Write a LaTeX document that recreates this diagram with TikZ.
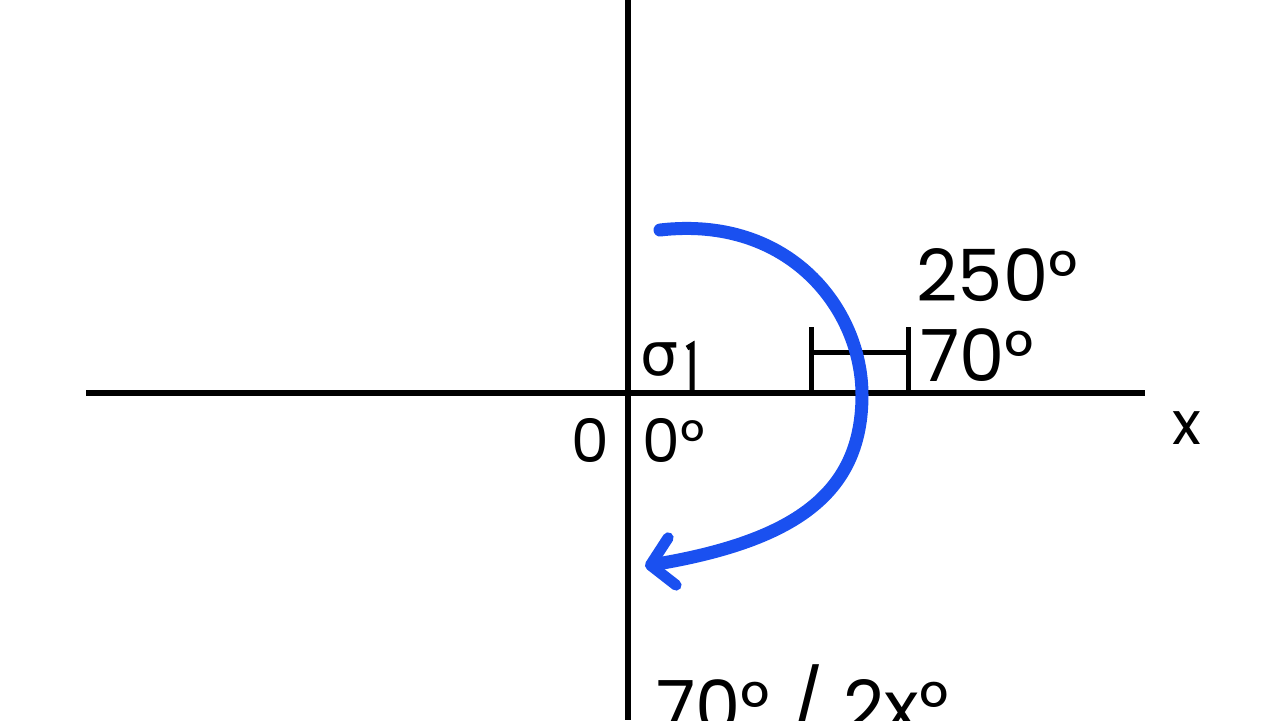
\documentclass[tikz,border=0pt]{standalone}
\usepackage{fontspec}
\setmainfont{Poppins}
\newfontfamily\greekfont{DejaVu Sans}
\usetikzlibrary{arrows.meta, positioning}

\begin{document}
\begin{tikzpicture}[%
	x=0.5pt, y=-0.5pt,          % pixel grid of the sketch, y going down
	every node/.style={font=\fontsize{36}{40}\selectfont, inner sep=0pt},
	]
	% -------------------------------------------------
	% A few line styles
	\tikzset{
		axis/.style={draw, line width=3pt},
		tick/.style={draw, line width=2.5pt},
		turn/.style={draw, line width=6.5pt, line cap=round, color=turnblue,
			-{Straight Barb[length=11pt, width=24pt, line width=5.5pt, round]}},
		lbl/.style={anchor=center},
		small/.style={font=\fontsize{30}{34}\selectfont}
	}
	\definecolor{turnblue}{RGB}{26,80,240}

	\clip (0,0) rectangle (1280,720);
	\fill[white] (0,0) rectangle (1280,720);

	% axes
	\coordinate (xl) at (86,393);
	\coordinate (xr) at (1145,393);
	\coordinate (yt) at (628,0);
	\coordinate (yb) at (628,720);
	\draw[axis] (xl) -- (xr);
	\draw[axis] (yt) -- (yb);

	% ticks and the bracket
	\coordinate (s0) at (692,393);
	\coordinate (s1) at (692,345);
	\coordinate (b1) at (811,393);
	\coordinate (b2) at (811,327);
	\coordinate (b3) at (908,393);
	\coordinate (b4) at (908,327);
	\coordinate (b5) at (811,352);
	\coordinate (b6) at (908,352);
	\draw[tick] (s0) -- (s1) -- ++(-5,3);
	\draw[tick] (b1) -- (b2);
	\draw[tick] (b3) -- (b4);
	\draw[tick] (b5) -- (b6);

	% labels
	\node[lbl, small] (xlbl) at (1187,428) {x};
	\node[lbl, small] (zero) at (590,440) {0};
	\node[lbl, small] (zerodeg) at (674,440) {0°};
	\node[lbl, small] (sigma) at (660,360) {\greekfont σ};
	\node[lbl, anchor=west] (seventy) at (920,355) {70°};
	\node[lbl, anchor=west] (twofifty) at (916,275) {250°};
	\node[lbl, anchor=west] (bottomlbl) at (656,705) {70° / 2x°};

	% the blue turn
	\coordinate (ta) at (660,230);
	\coordinate (tm) at (862,395);
	\coordinate (te) at (645,566);
	\draw[turn] (ta) .. controls (790,215) and (862,310) .. (tm)
		.. controls (862,490) and (800,540) .. (te);

\end{tikzpicture}
\end{document}
